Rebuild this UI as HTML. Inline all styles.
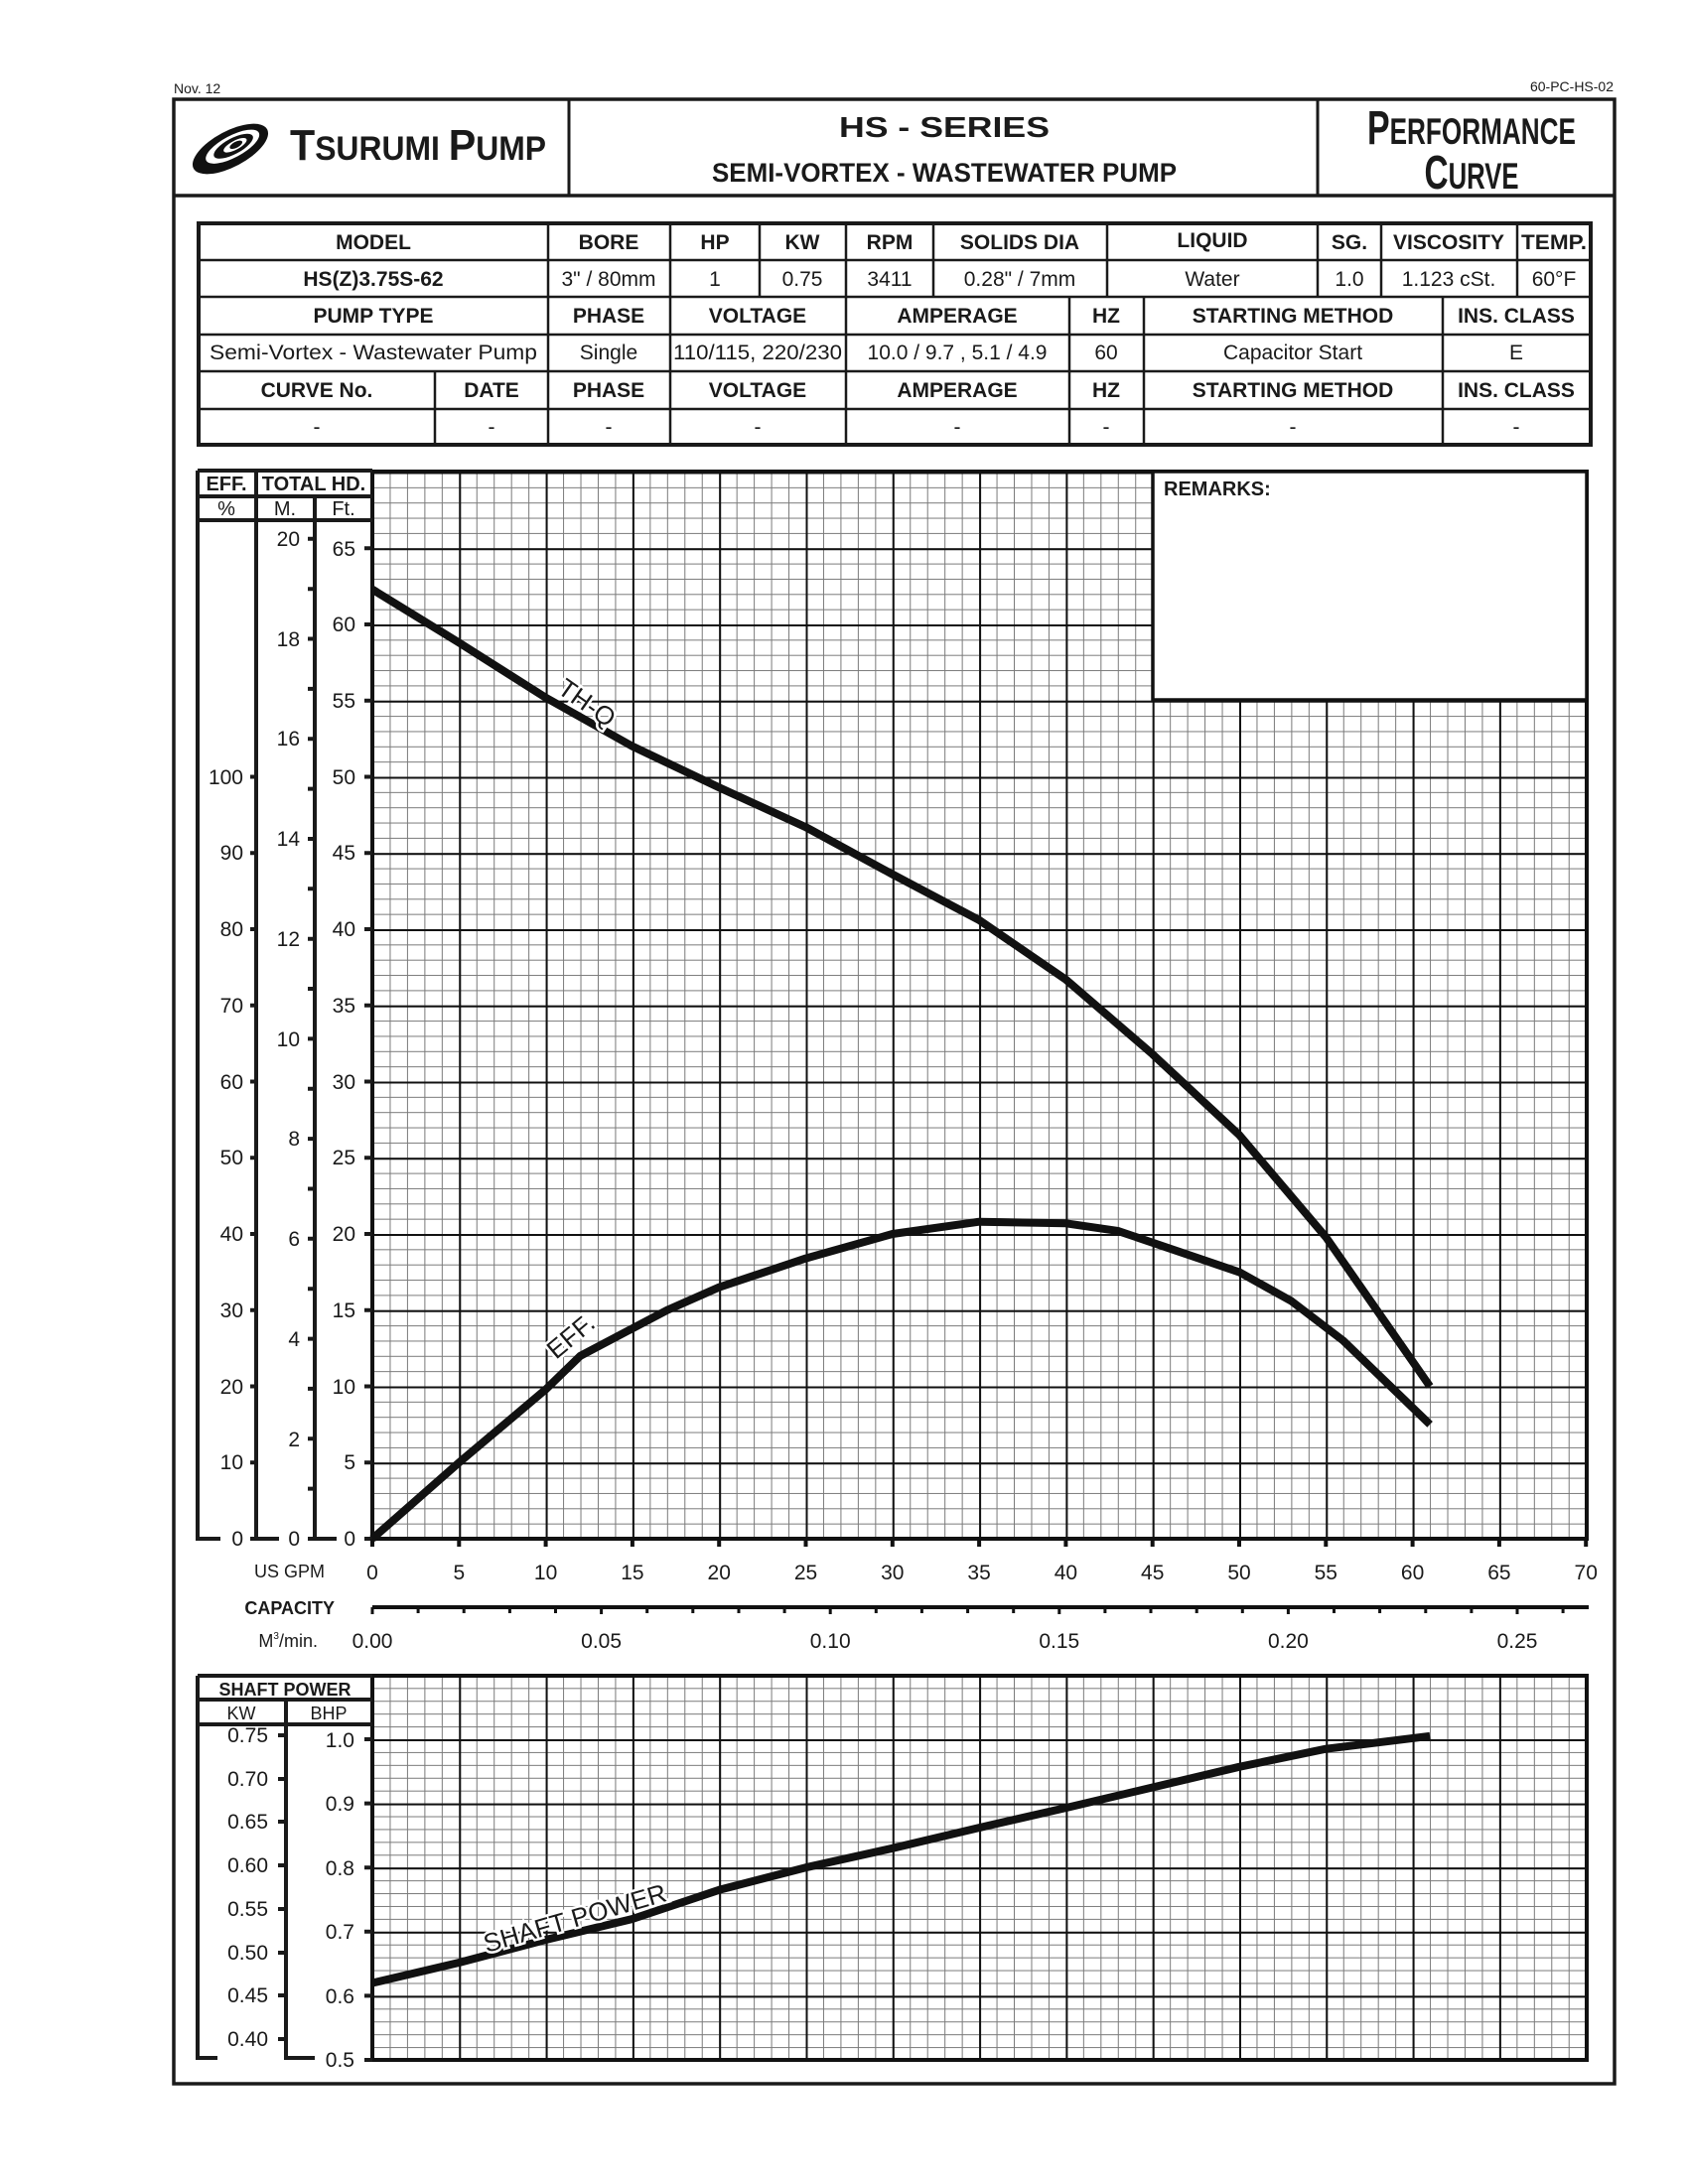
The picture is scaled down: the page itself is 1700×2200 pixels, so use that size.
<!DOCTYPE html>
<html><head><meta charset="utf-8"><style>
html,body{margin:0;padding:0;background:#fff;}
svg{display:block;}
text{font-family:"Liberation Sans",sans-serif;fill:#1a1a1a;}
</style></head><body>
<svg width="1700" height="2200" viewBox="0 0 1700 2200" xmlns="http://www.w3.org/2000/svg">
<defs>
<pattern id="minU" patternUnits="userSpaceOnUse" x="375" y="1550" width="17.46" height="15.35">
<path d="M0.5 0V15.35M0 0.5H17.46" stroke="#7a7a7a" stroke-width="1" fill="none"/></pattern>
<pattern id="majU" patternUnits="userSpaceOnUse" x="375" y="1550" width="87.3" height="76.75">
<path d="M0 0V76.75M0 0H87.3" stroke="#111" stroke-width="4" fill="none"/></pattern>
<pattern id="minL" patternUnits="userSpaceOnUse" x="375" y="2075" width="17.46" height="12.92">
<path d="M0.5 0V12.92M0 0.5H17.46" stroke="#7a7a7a" stroke-width="1" fill="none"/></pattern>
<pattern id="majL" patternUnits="userSpaceOnUse" x="375" y="2075" width="87.3" height="64.6">
<path d="M0 0V64.6M0 0H87.3" stroke="#111" stroke-width="4" fill="none"/></pattern>
</defs>

<text x="175" y="94" font-size="14">Nov. 12</text>
<text x="1625" y="92" font-size="14" text-anchor="end">60-PC-HS-02</text>

<rect x="175" y="100" width="1451" height="1999" fill="none" stroke="#1a1a1a" stroke-width="3.5"/>
<line x1="175" y1="197" x2="1626" y2="197" stroke="#1a1a1a" stroke-width="3.5"/>
<line x1="573" y1="100" x2="573" y2="197" stroke="#1a1a1a" stroke-width="3"/>
<line x1="1327" y1="100" x2="1327" y2="197" stroke="#1a1a1a" stroke-width="3"/>

<g transform="translate(232,150) rotate(-28)">
<ellipse cx="0" cy="0" rx="42" ry="18" fill="#111"/>
<ellipse cx="3" cy="-1" rx="30" ry="11" fill="#fff"/>
<ellipse cx="4" cy="-1" rx="22" ry="8" fill="#111"/>
<ellipse cx="6" cy="-1" rx="13" ry="4.5" fill="#fff"/>
<ellipse cx="7" cy="-1" rx="7" ry="3" fill="#111"/>
</g>
<text x="292" y="161" font-size="44" font-weight="bold" textLength="258" lengthAdjust="spacingAndGlyphs">T<tspan font-size="34">SURUMI </tspan>P<tspan font-size="34">UMP</tspan></text>

<text x="951" y="138" font-size="29" font-weight="bold" text-anchor="middle" textLength="212" lengthAdjust="spacingAndGlyphs">HS - SERIES</text>
<text x="951" y="183" font-size="27" font-weight="bold" text-anchor="middle" textLength="468" lengthAdjust="spacingAndGlyphs">SEMI-VORTEX - WASTEWATER PUMP</text>
<text x="1482" y="145" font-size="48" font-weight="bold" text-anchor="middle" textLength="210" lengthAdjust="spacingAndGlyphs">P<tspan font-size="37">ERFORMANCE</tspan></text>
<text x="1482" y="190" font-size="48" font-weight="bold" text-anchor="middle" textLength="95" lengthAdjust="spacingAndGlyphs">C<tspan font-size="37">URVE</tspan></text>

<g stroke="#1a1a1a" fill="none">
<rect x="200" y="225" width="1402" height="223" stroke-width="4"/>
<g stroke-width="2.5">
<line x1="200" y1="262" x2="1602" y2="262"/>
<line x1="200" y1="299" x2="1602" y2="299"/>
<line x1="200" y1="337" x2="1602" y2="337"/>
<line x1="200" y1="374" x2="1602" y2="374"/>
<line x1="200" y1="412" x2="1602" y2="412"/>
<path d="M552 225V299M675 225V299M765 225V299M852 225V299M940 225V299M1115 225V299M1327 225V299M1391 225V299M1528 225V299"/>
<path d="M552 299V374M675 299V374M852 299V374M1077 299V374M1152 299V374M1453 299V374"/>
<path d="M438 374V448M552 374V448M675 374V448M852 374V448M1077 374V448M1152 374V448M1453 374V448"/>
</g></g>
<g font-size="21" text-anchor="middle">
<g font-weight="bold">
<text x="376" y="251">MODEL</text><text x="613" y="251">BORE</text><text x="720" y="251">HP</text><text x="808" y="251">KW</text><text x="896" y="251">RPM</text><text x="1027" y="251">SOLIDS DIA</text><text x="1221" y="249">LIQUID</text><text x="1359" y="251">SG.</text><text x="1459" y="251">VISCOSITY</text><text x="1565" y="251" textLength="66" lengthAdjust="spacingAndGlyphs">TEMP.</text>
<text x="376" y="288">HS(Z)3.75S-62</text>
<text x="376" y="325">PUMP TYPE</text><text x="613" y="325">PHASE</text><text x="763" y="325">VOLTAGE</text><text x="964" y="325">AMPERAGE</text><text x="1114" y="325">HZ</text><text x="1302" y="325">STARTING METHOD</text><text x="1527" y="325">INS. CLASS</text>
<text x="319" y="400">CURVE No.</text><text x="495" y="400">DATE</text><text x="613" y="400">PHASE</text><text x="763" y="400">VOLTAGE</text><text x="964" y="400">AMPERAGE</text><text x="1114" y="400">HZ</text><text x="1302" y="400">STARTING METHOD</text><text x="1527" y="400">INS. CLASS</text>
</g>
<text x="613" y="288">3" / 80mm</text><text x="720" y="288">1</text><text x="808" y="288">0.75</text><text x="896" y="288">3411</text><text x="1027" y="288">0.28" / 7mm</text><text x="1221" y="288">Water</text><text x="1359" y="288">1.0</text><text x="1459" y="288">1.123 cSt.</text><text x="1565" y="288">60°F</text>
<text x="376" y="362" textLength="330" lengthAdjust="spacingAndGlyphs">Semi-Vortex - Wastewater Pump</text><text x="613" y="362">Single</text><text x="763" y="362" textLength="170" lengthAdjust="spacingAndGlyphs">110/115, 220/230</text><text x="964" y="362">10.0 / 9.7 , 5.1 / 4.9</text><text x="1114" y="362">60</text><text x="1302" y="362">Capacitor Start</text><text x="1527" y="362">E</text>
<text x="319" y="437">-</text><text x="495" y="437">-</text><text x="613" y="437">-</text><text x="763" y="437">-</text><text x="964" y="437">-</text><text x="1114" y="437">-</text><text x="1302" y="437">-</text><text x="1527" y="437">-</text>
</g>

<rect x="375" y="475" width="1223" height="1075" fill="url(#minU)"/>
<rect x="375" y="475" width="1223" height="1075" fill="url(#majU)"/>
<rect x="375" y="475" width="1223" height="1075" fill="none" stroke="#111" stroke-width="4"/>
<rect x="1161" y="475" width="437" height="230" fill="#fff" stroke="#111" stroke-width="3.5"/>
<text x="1172" y="499" font-size="20" font-weight="bold">REMARKS:</text>

<g stroke="#1a1a1a" stroke-width="4" fill="none">
<path d="M199 474V1550H222M258 474V1550H281M317 500V1550H339M199 474H375M199 500H375M199 524H375"/>
</g>
<g font-size="20" text-anchor="middle">
<text x="228" y="494" font-weight="bold">EFF.</text><text x="316" y="494" font-weight="bold">TOTAL HD.</text>
<text x="228" y="519">%</text><text x="287" y="519">M.</text><text x="346" y="519">Ft.</text>
</g>
<g stroke="#1a1a1a" stroke-width="4">
<path d="M252 1550H258M252 1473.25H258M252 1396.5H258M252 1319.75H258M252 1243H258M252 1166.25H258M252 1089.5H258M252 1012.75H258M252 936H258M252 859.25H258M252 782.5H258"/>
<path d="M310 1550H317M310 1499.6H317M310 1449.3H317M310 1398.9H317M310 1348.6H317M310 1298.2H317M310 1247.8H317M310 1197.5H317M310 1147.1H317M310 1096.8H317M310 1046.4H317M310 996H317M310 945.7H317M310 895.3H317M310 845H317M310 794.6H317M310 744.2H317M310 693.9H317M310 643.5H317M310 593.2H317M310 542.8H317"/>
<path d="M367 1550H375M367 1473.25H375M367 1396.5H375M367 1319.75H375M367 1243H375M367 1166.25H375M367 1089.5H375M367 1012.75H375M367 936H375M367 859.25H375M367 782.5H375M367 705.75H375M367 629H375M367 552.25H375"/>
</g>
<g font-size="21" text-anchor="end">
<text x="245" y="1557">0</text><text x="245" y="1480">10</text><text x="245" y="1404">20</text><text x="245" y="1327">30</text><text x="245" y="1250">40</text><text x="245" y="1173">50</text><text x="245" y="1097">60</text><text x="245" y="1020">70</text><text x="245" y="943">80</text><text x="245" y="866">90</text><text x="245" y="790">100</text>
<text x="302" y="1557">0</text><text x="302" y="1457">2</text><text x="302" y="1356">4</text><text x="302" y="1255">6</text><text x="302" y="1154">8</text><text x="302" y="1054">10</text><text x="302" y="953">12</text><text x="302" y="852">14</text><text x="302" y="751">16</text><text x="302" y="651">18</text><text x="302" y="550">20</text>
<text x="358" y="1557">0</text><text x="358" y="1480">5</text><text x="358" y="1404">10</text><text x="358" y="1327">15</text><text x="358" y="1250">20</text><text x="358" y="1173">25</text><text x="358" y="1097">30</text><text x="358" y="1020">35</text><text x="358" y="943">40</text><text x="358" y="866">45</text><text x="358" y="790">50</text><text x="358" y="713">55</text><text x="358" y="636">60</text><text x="358" y="560">65</text>
</g>

<g stroke="#111" stroke-width="4"><path d="M375 1550V1558M462.3 1550V1558M549.6 1550V1558M636.9 1550V1558M724.2 1550V1558M811.5 1550V1558M898.8 1550V1558M986.1 1550V1558M1073.4 1550V1558M1160.7 1550V1558M1248 1550V1558M1335.3 1550V1558M1422.6 1550V1558M1509.9 1550V1558M1597.2 1550V1558"/></g>
<g font-size="21" text-anchor="middle">
<text x="375" y="1591">0</text><text x="462.3" y="1591">5</text><text x="549.6" y="1591">10</text><text x="636.9" y="1591">15</text><text x="724.2" y="1591">20</text><text x="811.5" y="1591">25</text><text x="898.8" y="1591">30</text><text x="986.1" y="1591">35</text><text x="1073.4" y="1591">40</text><text x="1160.7" y="1591">45</text><text x="1248" y="1591">50</text><text x="1335.3" y="1591">55</text><text x="1422.6" y="1591">60</text><text x="1509.9" y="1591">65</text><text x="1597.2" y="1591">70</text>
</g>
<text x="327" y="1589" font-size="18" text-anchor="end">US GPM</text>
<text x="337" y="1626" font-size="18" font-weight="bold" text-anchor="end">CAPACITY</text>
<text x="320" y="1659" font-size="18" text-anchor="end">M<tspan font-size="10" dy="-8">3</tspan><tspan dy="8">/min.</tspan></text>
<line x1="375" y1="1619" x2="1600" y2="1619" stroke="#111" stroke-width="4"/>
<g stroke="#111" stroke-width="3"><path d="M375 1619V1626M421.1 1619V1625M467.2 1619V1625M513.4 1619V1625M559.5 1619V1625M605.6 1619V1626M651.7 1619V1625M697.8 1619V1625M744 1619V1625M790.1 1619V1625M836.2 1619V1626M882.3 1619V1625M928.4 1619V1625M974.6 1619V1625M1020.7 1619V1625M1066.8 1619V1626M1112.9 1619V1625M1159 1619V1625M1205.2 1619V1625M1251.3 1619V1625M1297.4 1619V1626M1343.5 1619V1625M1389.6 1619V1625M1435.8 1619V1625M1481.9 1619V1625M1528 1619V1626M1574.1 1619V1625"/></g>
<g font-size="21" text-anchor="middle">
<text x="375" y="1660">0.00</text><text x="605.6" y="1660">0.05</text><text x="836.2" y="1660">0.10</text><text x="1066.8" y="1660">0.15</text><text x="1297.4" y="1660">0.20</text><text x="1528" y="1660">0.25</text>
</g>

<g fill="none" stroke="#111" stroke-width="8" stroke-linejoin="round" stroke-linecap="butt">
<polyline points="375,593.7 462.3,647.4 549.6,702.7 636.9,751.8 724.2,793.2 811.5,833.2 898.8,880.7 986.1,926.8 1073.4,986.7 1160.7,1061.9 1248,1143.2 1335.3,1246.1 1440.1,1396.5"/>
<polyline points="375,1550 462.3,1473.3 549.6,1399.6 584.5,1365.8 671.8,1319.8 724.2,1296.7 811.5,1267.6 898.8,1243 986.1,1230.7 1073.4,1232.3 1125.8,1239.9 1248,1281.4 1300.4,1310.5 1352.8,1350.5 1440.1,1434.9"/>
</g>
<text x="0" y="0" font-size="26" transform="translate(560,697) rotate(35)" stroke="#fff" stroke-width="5" style="paint-order:stroke">TH-Q</text>
<text x="0" y="0" font-size="26" transform="translate(560,1370) rotate(-40)" stroke="#fff" stroke-width="5" style="paint-order:stroke">EFF.</text>

<rect x="375" y="1688" width="1223" height="387" fill="url(#minL)"/>
<rect x="375" y="1688" width="1223" height="387" fill="url(#majL)"/>
<rect x="375" y="1688" width="1223" height="387" fill="none" stroke="#111" stroke-width="4"/>
<g stroke="#1a1a1a" stroke-width="4" fill="none">
<path d="M199 1688H375M199 1712H375M199 1737H375M199 1688V2073H219M288 1712V2073H317M288 1737V2073"/>
</g>
<text x="287" y="1708" font-size="18" font-weight="bold" text-anchor="middle">SHAFT POWER</text>
<text x="243" y="1732" font-size="18" text-anchor="middle">KW</text>
<text x="331" y="1732" font-size="18" text-anchor="middle">BHP</text>
<g stroke="#1a1a1a" stroke-width="4">
<path d="M280 1748H288M280 1792H288M280 1835H288M280 1879H288M280 1923H288M280 1967H288M280 2010H288M280 2054H288"/>
<path d="M367 1752H375M367 1816.6H375M367 1881.2H375M367 1945.8H375M367 2010.4H375M367 2075H375"/>
</g>
<g font-size="21" text-anchor="end">
<text x="270" y="1755">0.75</text><text x="270" y="1799">0.70</text><text x="270" y="1842">0.65</text><text x="270" y="1886">0.60</text><text x="270" y="1930">0.55</text><text x="270" y="1974">0.50</text><text x="270" y="2017">0.45</text><text x="270" y="2061">0.40</text>
<text x="357" y="1760">1.0</text><text x="357" y="1824">0.9</text><text x="357" y="1889">0.8</text><text x="357" y="1953">0.7</text><text x="357" y="2018">0.6</text><text x="357" y="2082">0.5</text>
</g>
<polyline fill="none" stroke="#111" stroke-width="8" stroke-linejoin="round" points="375,1997.5 462.3,1977 549.6,1954 636.9,1933 724.2,1903.8 811.5,1881.2 898.8,1861.8 986.1,1841.1 1073.4,1821.1 1160.7,1800.5 1248,1779.8 1335.3,1761.7 1440.1,1748.8"/>
<text x="0" y="0" font-size="26" transform="translate(490,1967) rotate(-16)" stroke="#fff" stroke-width="5" style="paint-order:stroke">SHAFT POWER</text>
</svg>
</body></html>
